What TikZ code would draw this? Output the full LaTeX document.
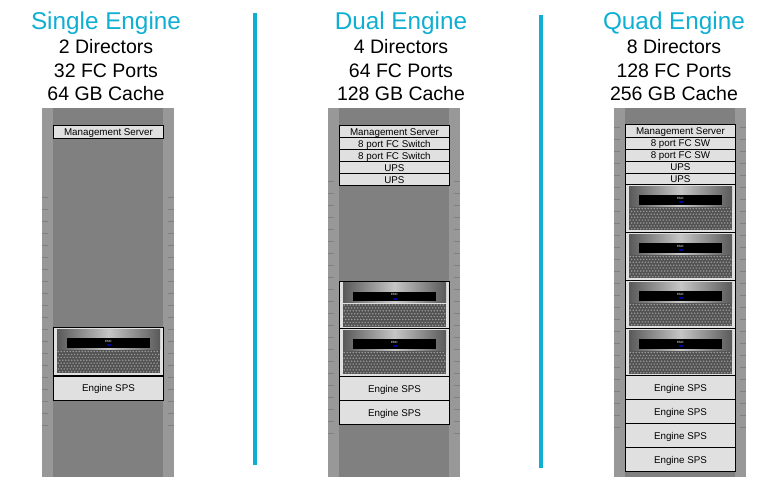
\documentclass[tikz,border=0pt]{standalone}
\usepackage{fontspec}
\setmainfont{Liberation Sans}
\definecolor{titleblue}{HTML}{0FAFD3}
\definecolor{railgray}{HTML}{989898}
\definecolor{baygray}{HTML}{808080}
\definecolor{tickgray}{HTML}{808080}
\definecolor{rowgray}{HTML}{E0E0E0}
\tikzset{
  titletext/.style={text=titleblue, anchor=base, inner sep=0pt, font=\fontsize{24.3}{26}\selectfont},
  spectext/.style={text=black, anchor=base, inner sep=0pt, font=\fontsize{19.5}{21}\selectfont},
  rowbox/.style={draw=black, line width=0.9pt, fill=rowgray, anchor=north west, inner sep=0pt,
    text height=7.4pt, text depth=0pt,
    minimum width=110pt, minimum height=12pt, font=\fontsize{9.8}{10}\selectfont},
  spsbox/.style={rowbox, minimum height=24pt},
  enginebox/.style={rowbox, minimum height=48pt},
  divider/.style={draw=titleblue, line width=4pt},
}
% rack: left x, first tick y
\newcommand{\rackframe}[2]{
  \fill[railgray] (#1, 108) rectangle (#1+132, 477);
  \fill[baygray] (#1+11, 108) rectangle (#1+121, 477);
  \foreach \tk in {#2,...,433} {
    \pgfmathparse{int(mod(\tk-#2,12))}
    \ifnum\pgfmathresult=0
      \draw[tickgray, line width=0.5pt] (#1, \tk) -- (#1+6, \tk);
      \draw[tickgray, line width=0.5pt] (#1+126, \tk) -- (#1+132, \tk);
    \fi
  }
}
% engine: name, left x, top y
\newcommand{\engine}[3]{
  \node[enginebox] (#1) at (#2, #3) {};
  \begin{scope}[shift={(#2, #3)}]
    \shade[left color=gray!70!black, right color=gray!70!black, middle color=gray!45] (4, 2) rectangle (107, 22);
    \fill[black] (14, 11) rectangle (97, 20.5);
    \node[text=white, inner sep=0pt, font=\fontsize{3}{3}\selectfont] (#1label) at (55.5, 14) {EMC};
    \fill[blue!60!black] (53.5, 17) rectangle (57.5, 19);
    \fill[black!68] (4, 23) rectangle (107, 46);
    \foreach \rw [evaluate=\rw as \off using {mod(\rw,2)*1.5}] in {0,...,7}
      \foreach \cl in {0,...,33}
        \fill[gray!80] (5.2+\off+\cl*3, 24.5+\rw*2.9) circle (0.85);
  \end{scope}
}
\begin{document}
\begin{tikzpicture}[x=1pt, y=-1pt]
  \useasboundingbox (0, 0) rectangle (772, 495);
  \fill[white] (0, 0) rectangle (772, 495);

  \draw[divider] (255, 13) -- (255, 465);
  \draw[divider] (541, 15) -- (541, 468);

  % single engine
  \node[titletext] (title1) at (106, 30) {Single Engine};
  \node[spectext] (directors1) at (106, 54) {2 Directors};
  \node[spectext] (ports1) at (106, 78) {32 FC Ports};
  \node[spectext] (cache1) at (106, 101) {64 GB Cache};
  \rackframe{42}{197}
  \node[rowbox, minimum height=13pt] (mgmt1) at (53, 125) {Management Server};
  \engine{engA}{53}{327}
  \node[spsbox] (spsA) at (53, 375.5) {Engine SPS};

  % dual engine
  \node[titletext] (title2) at (401, 30) {Dual Engine};
  \node[spectext] (directors2) at (401, 54) {4 Directors};
  \node[spectext] (ports2) at (401, 78) {64 FC Ports};
  \node[spectext] (cache2) at (401, 101) {128 GB Cache};
  \rackframe{328}{181}
  \node[rowbox] (mgmt2) at (339, 125) {Management Server};
  \node[rowbox] (sw2a) at (339, 137) {8 port FC Switch};
  \node[rowbox] (sw2b) at (339, 149) {8 port FC Switch};
  \node[rowbox] (ups2a) at (339, 161) {UPS};
  \node[rowbox] (ups2b) at (339, 173) {UPS};
  \engine{engB}{339}{280.5}
  \engine{engC}{339}{328}
  \node[spsbox] (spsB) at (339, 376) {Engine SPS};
  \node[spsbox] (spsC) at (339, 400) {Engine SPS};

  % quad engine
  \node[titletext] (title3) at (674, 30) {Quad Engine};
  \node[spectext] (directors3) at (674, 54) {8 Directors};
  \node[spectext] (ports3) at (674, 78) {128 FC Ports};
  \node[spectext] (cache3) at (674, 101) {256 GB Cache};
  \rackframe{614}{127}
  \node[rowbox] (mgmt3) at (625, 124.5) {Management Server};
  \node[rowbox] (sw3a) at (625, 136.5) {8 port FC SW};
  \node[rowbox] (sw3b) at (625, 148.5) {8 port FC SW};
  \node[rowbox] (ups3a) at (625, 160.5) {UPS};
  \node[rowbox] (ups3b) at (625, 172.5) {UPS};
  \engine{engD}{625}{184}
  \engine{engE}{625}{232}
  \engine{engF}{625}{280}
  \engine{engG}{625}{328}
  \node[spsbox] (spsD) at (625, 375) {Engine SPS};
  \node[spsbox] (spsE) at (625, 399) {Engine SPS};
  \node[spsbox] (spsF) at (625, 423) {Engine SPS};
  \node[spsbox] (spsG) at (625, 447) {Engine SPS};
\end{tikzpicture}
\end{document}
